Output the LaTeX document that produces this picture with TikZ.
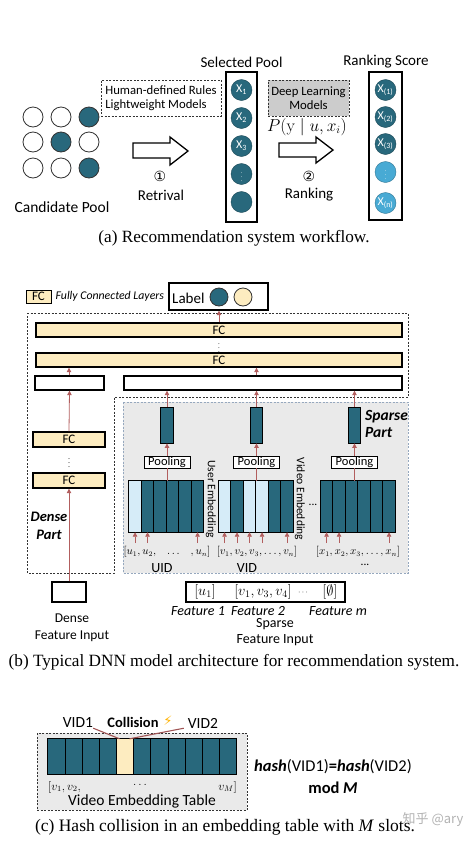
\documentclass[tikz,border=0pt]{standalone}
\usepackage[no-math]{fontspec}
\setmainfont{Liberation Serif}
\setsansfont{Carlito}
\newfontfamily\dejavu{DejaVu Sans}
\newfontfamily\cjkfont{Noto Sans CJK SC}
\usetikzlibrary{arrows.meta,positioning}

\definecolor{embteal}{RGB}{40,104,124}
\definecolor{embpale}{RGB}{214,236,248}
\definecolor{rankblue}{RGB}{72,170,212}
\definecolor{fcyellow}{RGB}{253,236,192}
\definecolor{linkred}{RGB}{178,94,94}
\definecolor{sparsegray}{RGB}{234,234,234}
\definecolor{sparseedge}{RGB}{150,168,190}
\definecolor{dlgray}{RGB}{204,204,204}

\tikzset{
  bigtxt/.style={font=\sffamily\fontsize{15}{17}\selectfont, inner sep=0pt},
  midtxt/.style={font=\sffamily\fontsize{12.7}{14}\selectfont, inner sep=0pt},
  smalltxt/.style={font=\sffamily\fontsize{11.5}{13}\selectfont, inner sep=0pt},
  captxt/.style={font=\fontsize{17.2}{19}\selectfont, inner sep=0pt},
  ball/.style={circle, draw=black!80, fill=white, line width=0.8pt, minimum size=20pt, inner sep=0pt},
  tealball/.style={ball, fill=embteal},
  poolball/.style={circle, fill=embteal, draw=embteal!70!black, line width=0.4pt, minimum size=21pt, inner sep=0pt, text=white, font=\sffamily\fontsize{12}{12}\selectfont},
  rankball/.style={poolball, fill=rankblue, draw=rankblue!70!black},
  column/.style={draw=black, line width=1.5pt, inner sep=0pt},
  dashbox/.style={draw=black!80, dash pattern=on 2pt off 1.5pt, line width=0.8pt},
  blockarrow/.style={draw=black, line width=1.3pt, fill=white, line join=miter},
  fcbar/.style={draw=black, line width=1.4pt, fill=fcyellow, inner sep=0pt, font=\sffamily\fontsize{13}{13}\selectfont},
  whitebar/.style={draw=black, line width=1.4pt, fill=white, inner sep=0pt},
  vecbox/.style={draw=black, line width=0.8pt, fill=embteal, minimum width=12.5pt, minimum height=36pt, inner sep=0pt},
  poolbox/.style={draw=black, line width=0.9pt, fill=white, minimum width=46pt, minimum height=12pt, inner sep=0pt, font=\sffamily\fontsize{12.5}{12.5}\selectfont},
  embbox/.style={minimum width=75pt, minimum height=51pt, inner sep=0pt},
  cell/.style={draw=black, line width=0.8pt},
  link/.style={draw=linkred, line width=0.8pt, -{Triangle[width=4.5pt,length=4.5pt]}},
  plainlink/.style={draw=linkred, line width=0.8pt},
  clash/.style={draw=linkred!90!black, line width=1.1pt},
  mathlbl/.style={font=\fontsize{10.5}{12}\selectfont, inner sep=0pt},
  featlbl/.style={font=\sffamily\itshape\fontsize{14}{15}\selectfont, inner sep=0pt},
  vdotstxt/.style={inner sep=0pt, font=\fontsize{7}{7}\selectfont}
}

\begin{document}
\begin{tikzpicture}[x=1pt, y=-1pt]
\useasboundingbox (0,0) rectangle (468,841);

% (a) candidate pool
\foreach \x/\y/\s [count=\i] in {33/117/ball,61/117/ball,89/117/tealball,
  33/142/ball,61/142/tealball,89/142/ball,33/168/ball,61/168/ball,89/168/tealball}
  \node[\s] (cand\i) at (\x,\y) {};
\node[bigtxt, font=\sffamily\fontsize{15.5}{17}\selectfont] (candtxt) at (62,207) {Candidate Pool};

\node[dashbox, minimum width=120pt, minimum height=36pt, align=left, midtxt] (rules) at (161,98)
  {Human-defined Rules\\Lightweight Models};

% Retrieval step
\draw[blockarrow] (133,143) -- (170,143) -- (170,137) -- (188,151) -- (170,165) -- (170,158) -- (133,158) -- cycle;
\node[bigtxt, font=\dejavu\fontsize{14}{14}\selectfont] (stepone) at (160,176) {①};
\node[bigtxt] (retrtxt) at (161,195) {Retrival};

% Selected pool
\node[column, minimum width=31pt, minimum height=150pt] (selbox) at (241.5,147) {};
\node[bigtxt] (seltxt) at (241.5,62) {Selected Pool};
\node[poolball] (sel1) at (241.5,90) {X\textsubscript{1}};
\node[poolball] (sel2) at (241.5,118) {X\textsubscript{2}};
\node[poolball] (sel3) at (241.5,146) {X\textsubscript{3}};
\node[poolball, font=\fontsize{6}{6}\selectfont] (sel4) at (241.5,174) {$\vdots$};
\node[poolball] (sel5) at (241.5,202) {};

% Ranking step
\node[dashbox, fill=dlgray, minimum width=81pt, minimum height=36pt, align=center, midtxt] (dlbox) at (308.5,98)
  {Deep Learning\\Models};
\node[font=\fontsize{16}{17}\selectfont, inner sep=0pt] (prob) at (307,127) {$P(\mathrm{y}\mid u, x_i)$};
\draw[blockarrow] (279,143) -- (316,143) -- (316,137) -- (333,150) -- (316,163) -- (316,157) -- (279,157) -- cycle;
\node[bigtxt, font=\dejavu\fontsize{14}{14}\selectfont] (steptwo) at (309,176) {②};
\node[bigtxt] (ranktxt) at (309,195) {Ranking};

% Ranking score
\node[column, minimum width=33pt, minimum height=148pt] (rankbox) at (385.5,146) {};
\node[bigtxt] (scoretxt) at (386,62) {Ranking Score};
\node[poolball] (rank1) at (385.5,90) {X\textsubscript{(1)}};
\node[poolball] (rank2) at (385.5,117) {X\textsubscript{(2)}};
\node[poolball] (rank3) at (385.5,144) {X\textsubscript{(3)}};
\node[rankball, font=\fontsize{6}{6}\selectfont] (rank4) at (385.5,172) {$\vdots$};
\node[rankball] (rank5) at (385.5,203) {X\textsubscript{(n)}};

\node[captxt] (capa) at (234,238) {(a) Recommendation system workflow.};

% (b) legend and label
\node[fcbar, line width=1pt, minimum width=25pt, minimum height=13pt] (legfc) at (38.5,296.5) {FC};
\node[featlbl, font=\sffamily\itshape\fontsize{11.8}{12}\selectfont, right=4pt of legfc] (legtxt) {Fully Connected Layers};
\node[whitebar, minimum width=99pt, minimum height=27pt] (labelbox) at (218.5,296.5) {};
\node[bigtxt, anchor=west] (labeltxt) at (172,298) {Label};
\node[ball, fill=embteal, minimum size=18pt] (labpos) at (219,297) {};
\node[ball, fill=fcyellow, minimum size=18pt] (labneg) at (243,297) {};

% dashed outline of the network
\draw[dashbox] (27,313) -- (408,313) -- (408,397) -- (114,397) -- (114,573) -- (27,573) -- cycle;

% top FC layers
\node[fcbar, minimum width=366pt, minimum height=14pt] (fctop) at (219,330) {FC};
\node[vdotstxt] (fcdots) at (219,345) {$\vdots$};
\node[fcbar, minimum width=366pt, minimum height=14pt] (fcmid) at (219,360) {FC};
\node[whitebar, minimum width=69pt, minimum height=14pt] (denseout) at (69.5,383) {};
\node[whitebar, minimum width=278pt, minimum height=14pt] (sparseout) at (263,383) {};
\draw[link] (fctop.north -| labpos) -- (labelbox.south -| labpos);
\draw[link] (denseout.north -| 69,0) -- (fcmid.south -| 69,0);

% sparse part
\draw[draw=sparseedge, fill=sparsegray, dash pattern=on 2pt off 1.5pt, line width=0.8pt] (123,402) rectangle (408,573);
\node[font=\sffamily\bfseries\itshape\fontsize{15.5}{17}\selectfont, inner sep=0pt, align=left, anchor=west] (sparsetxt) at (365,424) {Sparse\\Part};

% dense part
\node[fcbar, minimum width=72pt, minimum height=15pt] (fcdense2) at (69,439.5) {FC};
\node[vdotstxt, font=\fontsize{8}{8}\selectfont] (densedots) at (69,460) {$\vdots$};
\node[fcbar, minimum width=72pt, minimum height=15pt] (fcdense1) at (69,480.5) {FC};
\node[font=\sffamily\bfseries\itshape\fontsize{14.5}{18}\selectfont, inner sep=0pt, align=center] (densetxt) at (49,526) {Dense\\Part};
\node[whitebar, line width=1.3pt, minimum width=34pt, minimum height=20pt] (densein) at (69,592) {};
\node[bigtxt, align=center, font=\sffamily\fontsize{13.5}{17}\selectfont] (denseintxt) at (72,628) {Dense\\Feature Input};
\draw[link] (densein.north) -- (fcdense1.south);
\draw[link] (fcdense2.north) -- (denseout.south);

% embedding towers
\foreach \t/\ex/\px/\cols/\ticks in {1/166.5/167/{embpale,embteal,embteal,embteal,embteal,embteal}/{0,1,5},
    2/256/256.5/{embpale,embteal,embpale,embpale,embteal,embteal}/{0,1,2,3,5},
    3/358/354.5/{embteal,embteal,embteal,embteal,embteal,embteal}/{0,1,5}} {
  \node[embbox] (emb\t) at (\ex,506.5) {};
  \foreach \f [count=\i from 0] in \cols
    \draw[cell, fill=\f] ([xshift=\i*12.5pt]emb\t.north west) rectangle ([xshift=\i*12.5pt+12.5pt]emb\t.south west);
  \foreach \k in \ticks
    \draw[link] ([xshift=\k*12.5pt+6.25pt, yshift=-11pt]emb\t.south west) -- ([xshift=\k*12.5pt+6.25pt]emb\t.south west);
  \node[poolbox] (pool\t) at (\px,462) {Pooling};
  \node[vecbox] (vec\t) at (\px,425) {};
  \draw[plainlink] (emb\t.north -| pool\t) -- (pool\t.south);
  \draw[link] (pool\t.north) -- (vec\t.south);
  \draw[link] (vec\t.north) -- (sparseout.south -| vec\t);
}
\draw[link] (sparseout.north -| vec2) -- (fcmid.south -| vec2);

\node[smalltxt, rotate=-90] (useremb) at (211,499) {User Embedding};
\node[smalltxt, rotate=-90] (videmb) at (300,499) {Video Embedding};
\node[smalltxt] (towerdots) at (313,505) {...};

\node[mathlbl] (ulist) at (167,552) {$[u_1, u_2,\;\;\;\ldots\;\;\;, u_n]$};
\node[mathlbl] (vlist) at (257,552) {$[v_1, v_2, v_3, \ldots, v_n]$};
\node[mathlbl] (xlist) at (358,552) {$[x_1, x_2, x_3, \ldots, x_n]$};
\node[midtxt, font=\sffamily\fontsize{14}{15}\selectfont] (uidtxt) at (162,568) {UID};
\node[midtxt, font=\sffamily\fontsize{14}{15}\selectfont] (vidtxt) at (247,568) {VID};
\node[smalltxt] (moretxt) at (365,565) {...};

% sparse feature input
\node[whitebar, line width=1.3pt, minimum width=159pt, minimum height=20pt] (sparsein) at (265.5,592) {};
\node[font=\fontsize{14}{14}\selectfont, inner sep=0pt] (feat1) at (205,592) {$[u_1]$};
\node[font=\fontsize{14}{14}\selectfont, inner sep=0pt] (feat2) at (263,592) {$[v_1, v_3, v_4]$};
\node[font=\fontsize{8}{8}\selectfont, inner sep=0pt] (featdots) at (303,593) {$\cdots$};
\node[font=\fontsize{14}{14}\selectfont, inner sep=0pt] (featm) at (330,592) {$[\emptyset]$};
\node[featlbl] (f1txt) at (198,611) {Feature 1};
\node[featlbl] (f2txt) at (258,611) {Feature 2};
\node[featlbl] (fmtxt) at (338,611) {Feature m};
\node[bigtxt, align=center, font=\sffamily\fontsize{14}{16}\selectfont] (sparseintxt) at (275,632) {Sparse\\Feature Input};

\node[captxt] (capb) at (234,662) {(b) Typical DNN model architecture for recommendation system.};

% (c) hash collision
\draw[dashbox, fill=sparsegray] (37,733) rectangle (247,810);
\node[minimum width=189pt, minimum height=35pt, inner sep=0pt] (table) at (142.5,756.5) {};
\foreach \i in {0,...,10} {
  \ifnum\i=4 \def\f{fcyellow}\else \def\f{embteal}\fi
  \draw[cell, fill=\f] ([xshift=\i*17.18pt]table.north west) rectangle ([xshift=\i*17.18pt+17.18pt]table.south west);
}
\coordinate (hitl) at ([xshift=4*17.18pt+3pt]table.north west);
\coordinate (hitr) at ([xshift=4*17.18pt+13pt]table.north west);
\node[midtxt, font=\sffamily\fontsize{15.5}{16}\selectfont] (vid1) at (78,723) {VID1};
\node[midtxt, font=\sffamily\bfseries\fontsize{14.5}{16}\selectfont] (collide) at (133,722) {Collision};
\node[inner sep=0pt, text=orange!60!yellow, font=\dejavu\fontsize{13}{13}\selectfont] (bolt) at (168,721) {⚡};
\node[midtxt, font=\sffamily\fontsize{15.5}{16}\selectfont] (vid2) at (203,723) {VID2};
\draw[clash] (vid1.south east) -- (hitl);
\draw[clash] ([xshift=-4pt]vid2.south west) -- (hitr);
\node[font=\fontsize{12}{12}\selectfont, inner sep=0pt, anchor=west] (tabfirst) at (48,787) {$[v_1, v_2,$};
\node[font=\fontsize{12}{12}\selectfont, inner sep=0pt] (tabdots) at (140,785) {$\ldots$};
\node[font=\fontsize{12}{12}\selectfont, inner sep=0pt, anchor=east] (tablast) at (237,787) {$v_M]$};
\node[bigtxt, font=\sffamily\fontsize{15.5}{16}\selectfont] (tabtxt) at (142,801) {Video Embedding Table};
\node[font=\sffamily\fontsize{16.5}{18}\selectfont, inner sep=0pt] (hasheq) at (333,767)
  {\textbf{\textit{hash}}(VID1)\textbf{=}\textbf{\textit{hash}}(VID2)};
\node[font=\sffamily\bfseries\fontsize{16.5}{18}\selectfont, inner sep=0pt] (hashmod) at (333,788) {mod \textit{M}};

\node[captxt, font=\fontsize{17.5}{20}\selectfont] (capc) at (225,827) {(c) Hash collision in an embedding table with \textit{M} slots.};
\node[inner sep=0pt, text=black!30, font=\cjkfont\fontsize{13}{13}\selectfont] (mark) at (433,820) {知乎 @ary};
\end{tikzpicture}
\end{document}
